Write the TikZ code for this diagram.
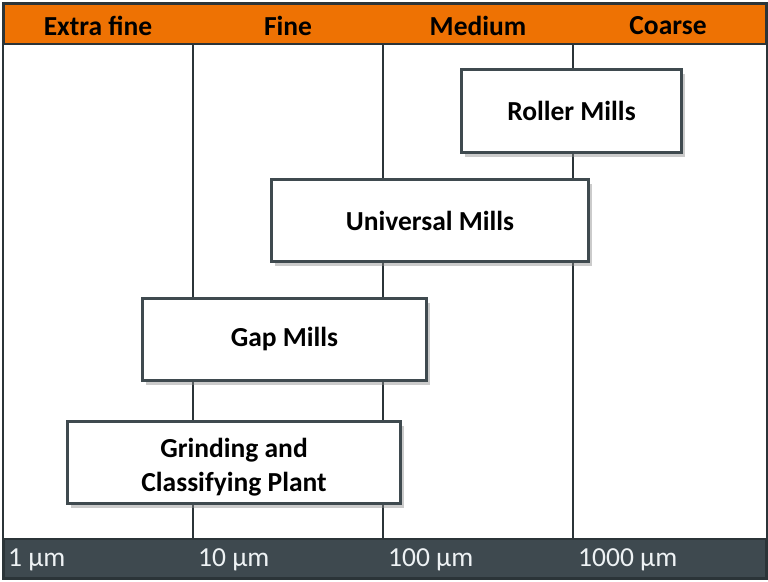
\documentclass[tikz,border=0pt]{standalone}
\usepackage{fontspec}
\setmainfont{Carlito}
\usepackage{xcolor}
\usetikzlibrary{positioning, shadows}
\definecolor{headorange}{HTML}{EE7203}
\definecolor{scalebar}{HTML}{3E494F}
\definecolor{gridline}{HTML}{2B3438}
\definecolor{boxedge}{HTML}{3F4A4F}
\definecolor{scaletext}{HTML}{EEF2F4}

\tikzset{
  millbox/.style={draw=boxedge, line width=3pt, fill=white, inner sep=0pt,
    align=center, font=\fontsize{27.5}{34}\selectfont\bfseries,
    drop shadow={shadow xshift=3pt, shadow yshift=-4pt, fill=black!45, opacity=.45}},
  classlabel/.style={font=\fontsize{27.5}{30}\selectfont\bfseries, text=black},
  sizelabel/.style={font=\fontsize{27.5}{30}\selectfont, text=scaletext, anchor=west, inner sep=0pt}
}

\begin{document}
\begin{tikzpicture}[x=1pt, y=-1pt]
    \useasboundingbox (0,0) rectangle (768,581);
    % bands
    \node[fill=headorange, draw=gridline, line width=1.5pt, minimum width=762pt, minimum height=40pt,
          inner sep=0pt, anchor=north west] (header) at (3,3) {};
    \node[fill=scalebar, draw=gridline, line width=1.5pt, minimum width=762pt, minimum height=39pt,
          inner sep=0pt, anchor=north west] (scale) at (3,538) {};
    \draw[gridline, line width=2pt] (header.north west) rectangle (scale.south east);

    % grid lines
    \foreach \gx in {193, 383, 573}
      \draw[gridline, line width=1.5pt] (\gx,43) -- (\gx,538);

    % class names
    \node[classlabel] (xfine) at (98,25.5) {Extra fine};
    \node[classlabel] (fine) at (288,25.5) {Fine};
    \node[classlabel] (medium) at (478,25.5) {Medium};
    \node[classlabel] (coarse) at (668,25.5) {Coarse};

    % particle sizes
    \node[sizelabel] (s1) at (8,559.5) {1 µm};
    \node[sizelabel] (s10) at (198,559.5) {10 µm};
    \node[sizelabel] (s100) at (388,559.5) {100 µm};
    \node[sizelabel] (s1000) at (578,559.5) {1000 µm};

    % mills
    \node[millbox, minimum width=220pt, minimum height=83pt] (roller) at (571.5,111) {Roller Mills};
    \node[millbox, minimum width=317pt, minimum height=82pt] (universal) at (430,220.5) {Universal Mills};
    \node[millbox, minimum width=284pt, minimum height=82pt] (gap) at (284.5,339.5) {Gap Mills};
    \node[millbox, minimum width=333pt, minimum height=82pt] (plant) at (234,462.5) {\rule{0pt}{28pt}Grinding and\\Classifying Plant};
  \end{tikzpicture}
\end{document}
